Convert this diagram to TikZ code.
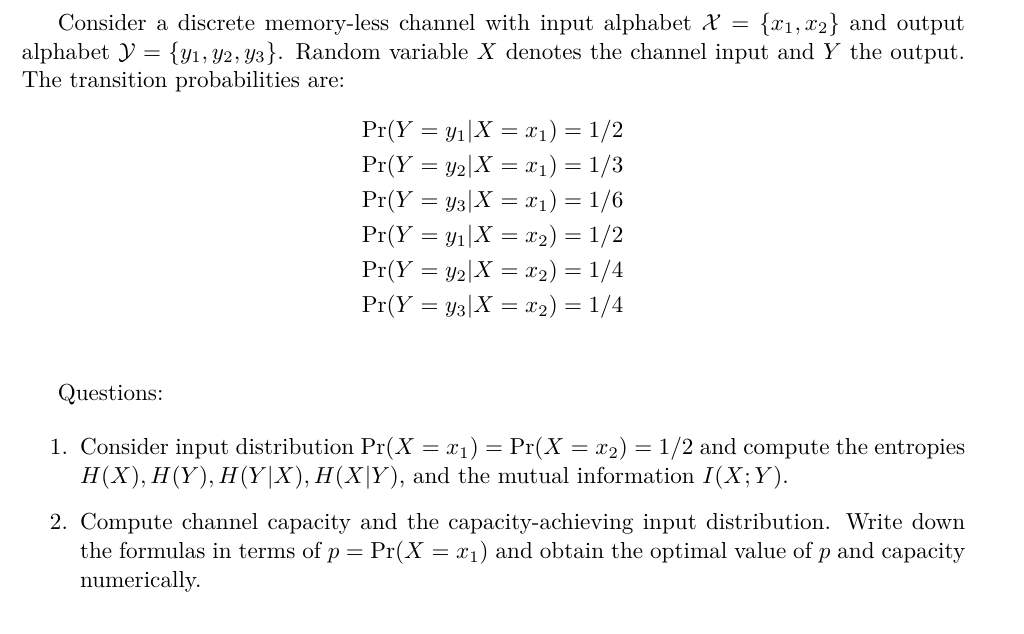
\documentclass[tikz,border=0pt]{standalone}
\usepackage{amsmath}
\begin{document}
\begin{tikzpicture}[x=1pt,y=1pt,
  txt/.style={anchor=base west,inner sep=0pt,outer sep=0pt}]
\useasboundingbox (0,0) rectangle (442.5,273.6);
\node[txt] (intro) at (9.5,260.6) {\parbox[t]{407.5pt}{\setlength{\parindent}{15.5pt}\setlength{\baselineskip}{12.5pt}\indent Consider a discrete memory-less channel with input alphabet $\mathcal{X}=\{x_1,x_2\}$ and output alphabet $\mathcal{Y}=\{y_1,y_2,y_3\}$. Random variable $X$ denotes the channel input and $Y$ the output. The transition probabilities are:}};
\node[txt] (e1) at (156.4,214.0) {$\Pr(Y=y_1|X=x_1)=1/2$};
\node[txt] (e2) at (156.4,198.9) {$\Pr(Y=y_2|X=x_1)=1/3$};
\node[txt] (e3) at (156.4,183.8) {$\Pr(Y=y_3|X=x_1)=1/6$};
\node[txt] (e4) at (156.4,168.7) {$\Pr(Y=y_1|X=x_2)=1/2$};
\node[txt] (e5) at (156.4,153.6) {$\Pr(Y=y_2|X=x_2)=1/4$};
\node[txt] (e6) at (156.4,138.5) {$\Pr(Y=y_3|X=x_2)=1/4$};
\node[txt] (q) at (25,100.7) {Questions:};
\node[txt] (n1) at (21.6,77.0) {1.};
\node[txt] (i1) at (34.6,77.0) {\parbox[t]{382.5pt}{\setlength{\baselineskip}{12.5pt}Consider input distribution $\Pr(X=x_1)=\Pr(X=x_2)=1/2$ and compute the entropies $H(X), H(Y), H(Y|X), H(X|Y)$, and the mutual information $I(X;Y)$.}};
\node[txt] (n2) at (21.6,44.6) {2.};
\node[txt] (i2) at (34.6,44.6) {\parbox[t]{382.5pt}{\setlength{\baselineskip}{12.5pt}Compute channel capacity and the capacity-achieving input distribution. Write down the formulas in terms of $p=\Pr(X=x_1)$ and obtain the optimal value of $p$ and capacity numerically.}};
\end{tikzpicture}
\end{document}
